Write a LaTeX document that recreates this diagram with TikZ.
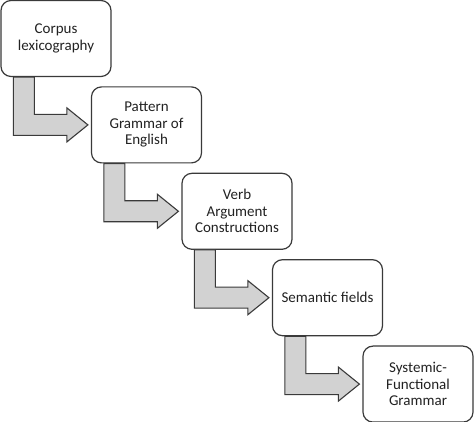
\documentclass[tikz,border=0pt]{standalone}
\usepackage{fontspec}
\setmainfont{Carlito}
\usetikzlibrary{calc}
\definecolor{edge}{HTML}{3A3A3A}
\definecolor{arrfill}{HTML}{D2D2D2}
\definecolor{txt}{HTML}{222222}
\tikzset{
  stepbox/.style={draw=edge, line width=1.2pt, rounded corners=10pt, fill=white,
    minimum width=110pt, minimum height=76pt, align=center, text=txt,
    font=\fontsize{15}{16.5}\selectfont, inner sep=2pt},
  bent/.style={draw=edge, fill=arrfill, line width=1.1pt, line join=miter}
}
\newcommand{\bentarrow}[2]{%
  \draw[bent] ($(#1.south west)+(13,0)$) -- ($(#1.south west)+(34,0)$)
    |- ($(#2.west)+(-24,10.5)$) -- ($(#2.west)+(-24,17)$) -- ($(#2.west)+(-3,0)$)
    -- ($(#2.west)+(-24,-17)$) -- ($(#2.west)+(-24,-10.5)$)
    -| ($(#1.south west)+(13,0)$) -- cycle;}
\begin{document}
\begin{tikzpicture}[x=1pt,y=1pt]
\useasboundingbox (0,0) rectangle (474,422);
\node[stepbox] (n1) at (56,383.5) {Corpus\\lexicography};
\node[stepbox] (n2) at (146.5,297.1) {Pattern\\Grammar of\\English};
\node[stepbox] (n3) at (237,210.7) {Verb\\Argument\\Constructions};
\node[stepbox] (n4) at (327.5,124.3) {Semantic fields};
\node[stepbox] (n5) at (418,37.9) {Systemic-\\Functional\\Grammar};
\bentarrow{n1}{n2}
\bentarrow{n2}{n3}
\bentarrow{n3}{n4}
\bentarrow{n4}{n5}
\end{tikzpicture}
\end{document}
